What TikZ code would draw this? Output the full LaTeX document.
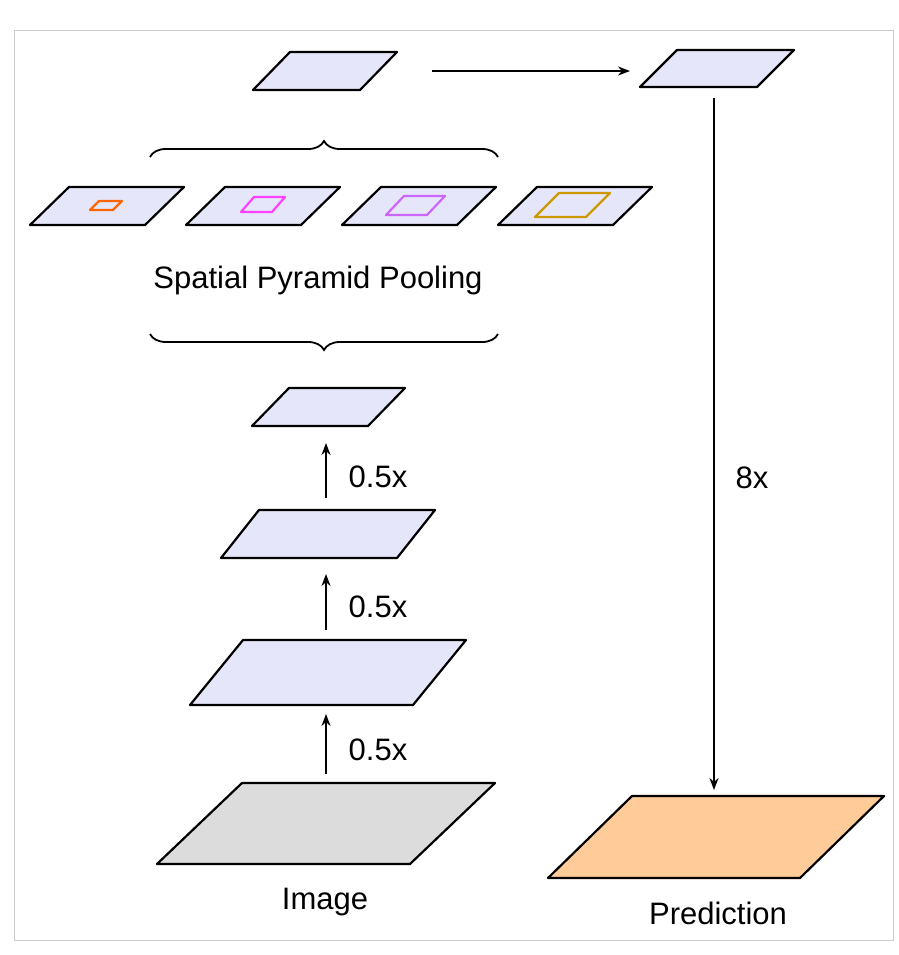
\documentclass[tikz,border=0pt]{standalone}
\usepackage{fontspec}
\setmainfont{Liberation Sans}
\usetikzlibrary{decorations.pathreplacing,arrows.meta}
\definecolor{lav}{HTML}{E6E6FA}
\definecolor{gry}{HTML}{DCDCDC}
\definecolor{org}{HTML}{FFCC99}
\definecolor{c1}{HTML}{FF6600}
\definecolor{c2}{HTML}{FF40FF}
\definecolor{c3}{HTML}{CC66FF}
\definecolor{c4}{HTML}{CC9900}
\newcommand{\pgram}[6]{% ytop ybot xbl xbr xtl fill
  \filldraw[box,fill=#6] (#3,#2) -- (#4,#2) -- ({#4+#5-#3},#1) -- (#5,#1) -- cycle;}
\newcommand{\inner}[6]{\draw[#6,line width=2.2pt,line join=round] (#3,#2) -- (#4,#2) -- ({#4+#5-#3},#1) -- (#5,#1) -- cycle;}
\begin{document}
\begin{tikzpicture}[x=1pt,y=-1pt,
  box/.style={draw=black,line width=2.2pt,line join=round},
  arr/.style={-{Stealth[length=12pt,width=9pt]},line width=1.8pt},
  lbl/.style={font=\fontsize{31}{36}\selectfont,inner sep=0pt},
  br/.style={decorate,decoration={brace,amplitude=16pt},line width=1.8pt}]
\useasboundingbox (0,0) rectangle (898,955);
\draw[gray!40,line width=0.8pt] (14,30) rectangle (893,940);
% top
\pgram{52}{90}{253}{360}{290}{lav}
\pgram{50}{87}{640}{757}{677}{lav}
\coordinate (a1) at (432,71); \coordinate (a2) at (630,71);
\draw[arr] (a1) -- (a2);
% braces
\draw[br] (150,157) -- (498,157);
\draw[br] (498,334) -- (150,334);
% spp
\pgram{187}{225}{30}{145}{69}{lav}
\pgram{187}{225}{186}{301}{225}{lav}
\pgram{187}{225}{342}{457}{381}{lav}
\pgram{187}{225}{498}{613}{537}{lav}
\inner{201}{210}{90}{113}{99}{c1}
\inner{197}{212}{241}{272}{254}{c2}
\inner{196}{215}{386}{427}{404}{c3}
\inner{193}{217}{535}{586}{559}{c4}
\node[lbl] (spp) at (318,280) {Spatial Pyramid Pooling};
% stack
\pgram{388}{426}{252}{368}{289}{lav}
\pgram{510}{558}{221}{397}{259}{lav}
\pgram{640}{705}{190}{413}{243}{lav}
\pgram{783}{864}{157}{410}{242}{gry}
\pgram{796}{878}{548}{800}{632}{org}
\coordinate (b1) at (326,498); \coordinate (b2) at (326,443);
\coordinate (c1s) at (326,630); \coordinate (c2s) at (326,574);
\coordinate (d1) at (326,774); \coordinate (d2) at (326,714);
\draw[arr] (b1) -- (b2);
\draw[arr] (c1s) -- (c2s);
\draw[arr] (d1) -- (d2);
\node[lbl] (l1) at (378,477) {0.5x};
\node[lbl] (l2) at (378,607) {0.5x};
\node[lbl] (l3) at (378,750) {0.5x};
\coordinate (r1) at (714,98); \coordinate (r2) at (714,790);
\draw[arr] (r1) -- (r2);
\node[lbl] (l4) at (752,478) {8x};
\node[lbl] (img) at (325,902) {Image};
\node[lbl] (pred) at (718,913) {Prediction};
\end{tikzpicture}
\end{document}
